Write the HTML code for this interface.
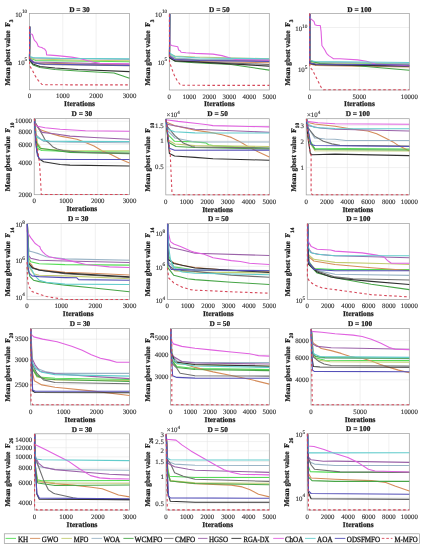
<!DOCTYPE html><html><head><meta charset="utf-8"><style>html,body{margin:0;padding:0;background:#fff;}svg{display:block;filter:blur(0.3px)}text{font-family:"Liberation Serif",serif;text-rendering:geometricPrecision}</style></head><body>
<svg width="424" height="550" viewBox="0 0 424 550">
<rect width="424" height="550" fill="#fff"/>
<path d="M62.8 13.5V89.8M96.1 13.5V89.8M29.4 61.4H129.5" stroke="#e6e6e6" stroke-width="0.6" fill="none"/>
<rect x="29.4" y="13.5" width="100.1" height="76.3" stroke="#9c9c9c" stroke-width="0.7" fill="none"/>
<path d="M29.8 26.7 L29.5 58 L36 60.5 L129.5 61.8" stroke="#55dc55" stroke-width="1.1" fill="none" stroke-linejoin="round"/>
<path d="M29.8 26.7 L29.5 59.5 L35 63 L129.5 65" stroke="#d48c5a" stroke-width="1.1" fill="none" stroke-linejoin="round"/>
<path d="M29.8 26.7 L29.5 57.5 L35 59 L80 60.2 L129.5 60.7" stroke="#c2cc72" stroke-width="1.1" fill="none" stroke-linejoin="round"/>
<path d="M29.8 26.7 L29.5 57 L35 58.2 L129.5 59.4" stroke="#9ab4c6" stroke-width="1.1" fill="none" stroke-linejoin="round"/>
<path d="M29.8 26.7 L29.5 60.5 L33 65 L40 67.5 L55 69.5 L78 71 L114 73 L120 75 L129.5 78.2" stroke="#47a547" stroke-width="1.1" fill="none" stroke-linejoin="round"/>
<path d="M29.8 26.7 L29.5 59.5 L33 62.5 L45 64.5 L129.5 65.8" stroke="#707070" stroke-width="1.1" fill="none" stroke-linejoin="round"/>
<path d="M29.8 26.7 L29.5 58.5 L34 62 L129.5 64.3" stroke="#9a62a8" stroke-width="1.1" fill="none" stroke-linejoin="round"/>
<path d="M29.8 26.7 L29.5 60 L33 64 L40 66.5 L55 68 L78 69.5 L129.5 71.6" stroke="#303030" stroke-width="1.1" fill="none" stroke-linejoin="round"/>
<path d="M29.8 26.7 L29.6 33.1 L30.6 33.8 L32.4 34.5 L33.5 38.2 L34.5 40.4 L36 41.8 L37 43.3 L38.2 46.2 L39.6 46.9 L41.8 47.6 L43.3 48.4 L44.7 49.1 L46.2 51.3 L46.6 54.9 L57 55.6 L71.6 57.1 L80 58.5 L92.5 62 L100 63.4 L129.5 63.8" stroke="#e062e0" stroke-width="1.1" fill="none" stroke-linejoin="round"/>
<path d="M29.8 26.7 L29.5 56.5 L33 57.5 L60 58.3 L129.5 58.8" stroke="#62cccc" stroke-width="1.1" fill="none" stroke-linejoin="round"/>
<path d="M29.8 26.7 L29.5 59 L33 62.5 L40 64 L129.5 65.5" stroke="#5550b8" stroke-width="1.1" fill="none" stroke-linejoin="round"/>
<path d="M29.5 26.5 L29.6 65.8 L32.4 70.2 L35.3 76 L38.2 80.4 L41.8 84.3 L44 84.8 L129.5 84.9" stroke="#d6485a" stroke-width="1.1" stroke-dasharray="2.6 2.4" fill="none"/>
<text x="29.4" y="98.4" font-size="6.8" fill="#333333" stroke="#333333" stroke-width="0.15" text-anchor="middle">0</text>
<text x="62.8" y="98.4" font-size="6.8" fill="#333333" stroke="#333333" stroke-width="0.15" text-anchor="middle">1000</text>
<text x="96.1" y="98.4" font-size="6.8" fill="#333333" stroke="#333333" stroke-width="0.15" text-anchor="middle">2000</text>
<text x="129.5" y="98.4" font-size="6.8" fill="#333333" stroke="#333333" stroke-width="0.15" text-anchor="middle">3000</text>
<text x="27.2" y="16.8" font-size="6.8" fill="#333333" stroke="#333333" stroke-width="0.15" text-anchor="end">10<tspan dy="-3.3" font-size="5.2">10</tspan></text>
<text x="27.2" y="64.7" font-size="6.8" fill="#333333" stroke="#333333" stroke-width="0.15" text-anchor="end">10<tspan dy="-3.3" font-size="5.2">5</tspan></text>
<text x="79.5" y="11.5" font-size="7.4" font-weight="bold" stroke="#1e1e1e" stroke-width="0.25" fill="#1e1e1e" text-anchor="middle">D&#160;=&#160;30</text>
<text x="79.5" y="106.2" font-size="7.4" font-weight="bold" stroke="#1e1e1e" stroke-width="0.25" fill="#1e1e1e" text-anchor="middle">Iterations</text>
<text transform="translate(9.8 52.5) rotate(-90)" xml:space="preserve" font-size="7.4" font-weight="bold" stroke="#1e1e1e" stroke-width="0.25" fill="#1e1e1e" text-anchor="middle">Mean gbest value  F<tspan dy="3.6" font-size="5.4">3</tspan></text>
<path d="M189.3 13.5V90M209.3 13.5V90M229.3 13.5V90M249.3 13.5V90M169.3 61.2H269.3" stroke="#e6e6e6" stroke-width="0.6" fill="none"/>
<rect x="169.3" y="13.5" width="100" height="76.5" stroke="#9c9c9c" stroke-width="0.7" fill="none"/>
<path d="M169.7 14.1 L169.5 55 L176 58.5 L200 60 L269.3 60.3" stroke="#55dc55" stroke-width="1.1" fill="none" stroke-linejoin="round"/>
<path d="M169.7 14.1 L169.5 57 L175 60.5 L200 61.5 L269.3 62.8" stroke="#d48c5a" stroke-width="1.1" fill="none" stroke-linejoin="round"/>
<path d="M169.7 14.1 L169.5 54 L175 56 L195 57 L269.3 58.8" stroke="#c2cc72" stroke-width="1.1" fill="none" stroke-linejoin="round"/>
<path d="M169.7 14.1 L169.5 55 L175 58 L200 59.5 L269.3 59.6" stroke="#9ab4c6" stroke-width="1.1" fill="none" stroke-linejoin="round"/>
<path d="M169.7 14.1 L169.5 58 L176 61.5 L195 62.8 L231 64.5 L269.3 70.1" stroke="#47a547" stroke-width="1.1" fill="none" stroke-linejoin="round"/>
<path d="M169.7 14.1 L169.5 57 L175 60.5 L200 62 L269.3 64.5" stroke="#707070" stroke-width="1.1" fill="none" stroke-linejoin="round"/>
<path d="M169.7 14.1 L169.5 56 L175 59.5 L200 60.5 L269.3 61" stroke="#9a62a8" stroke-width="1.1" fill="none" stroke-linejoin="round"/>
<path d="M169.7 14.1 L169.5 57.5 L175 61 L195 61.9 L269.3 66.1" stroke="#303030" stroke-width="1.1" fill="none" stroke-linejoin="round"/>
<path d="M169.7 14.1 L169.5 20 L169.8 39.6 L170.1 44.4 L171.6 45.5 L174 46 L177.8 46.8 L178.6 50 L180.2 50.8 L181.1 52.3 L186 52.8 L195 53.4 L213 54.1 L222 55.6 L231 58.3 L237 59.6 L269.3 60.1" stroke="#e062e0" stroke-width="1.1" fill="none" stroke-linejoin="round"/>
<path d="M169.7 14.1 L169.5 53 L175 56.5 L200 58 L269.3 58.8" stroke="#62cccc" stroke-width="1.1" fill="none" stroke-linejoin="round"/>
<path d="M169.7 14.1 L169.5 56.5 L174 59.5 L200 60.5 L269.3 61.5" stroke="#5550b8" stroke-width="1.1" fill="none" stroke-linejoin="round"/>
<path d="M169.4 14.5 L169.5 61.8 L171.6 68.1 L174 74.5 L177.2 80.8 L180.3 84.7 L182 85.3 L269.3 85.4" stroke="#d6485a" stroke-width="1.1" stroke-dasharray="2.6 2.4" fill="none"/>
<text x="169.3" y="98.6" font-size="6.8" fill="#333333" stroke="#333333" stroke-width="0.15" text-anchor="middle">0</text>
<text x="189.3" y="98.6" font-size="6.8" fill="#333333" stroke="#333333" stroke-width="0.15" text-anchor="middle">1000</text>
<text x="209.3" y="98.6" font-size="6.8" fill="#333333" stroke="#333333" stroke-width="0.15" text-anchor="middle">2000</text>
<text x="229.3" y="98.6" font-size="6.8" fill="#333333" stroke="#333333" stroke-width="0.15" text-anchor="middle">3000</text>
<text x="249.3" y="98.6" font-size="6.8" fill="#333333" stroke="#333333" stroke-width="0.15" text-anchor="middle">4000</text>
<text x="269.3" y="98.6" font-size="6.8" fill="#333333" stroke="#333333" stroke-width="0.15" text-anchor="middle">5000</text>
<text x="167.1" y="16.8" font-size="6.8" fill="#333333" stroke="#333333" stroke-width="0.15" text-anchor="end">10<tspan dy="-3.3" font-size="5.2">10</tspan></text>
<text x="167.1" y="64.5" font-size="6.8" fill="#333333" stroke="#333333" stroke-width="0.15" text-anchor="end">10<tspan dy="-3.3" font-size="5.2">5</tspan></text>
<text x="219.3" y="11.5" font-size="7.4" font-weight="bold" stroke="#1e1e1e" stroke-width="0.25" fill="#1e1e1e" text-anchor="middle">D&#160;=&#160;50</text>
<text x="219.3" y="106.4" font-size="7.4" font-weight="bold" stroke="#1e1e1e" stroke-width="0.25" fill="#1e1e1e" text-anchor="middle">Iterations</text>
<text transform="translate(150.4 52.6) rotate(-90)" xml:space="preserve" font-size="7.4" font-weight="bold" stroke="#1e1e1e" stroke-width="0.25" fill="#1e1e1e" text-anchor="middle">Mean gbest value  F<tspan dy="3.6" font-size="5.4">3</tspan></text>
<path d="M359.4 13.5V90M309.5 27.5H409.3M309.5 69H409.3" stroke="#e6e6e6" stroke-width="0.6" fill="none"/>
<rect x="309.5" y="13.5" width="99.8" height="76.5" stroke="#9c9c9c" stroke-width="0.7" fill="none"/>
<path d="M309.9 14.1 L309.7 60.2 L316 62.5 L409.3 64" stroke="#55dc55" stroke-width="1.1" fill="none" stroke-linejoin="round"/>
<path d="M309.9 14.1 L309.7 64 L316 65.5 L409.3 67" stroke="#d48c5a" stroke-width="1.1" fill="none" stroke-linejoin="round"/>
<path d="M309.9 14.1 L309.7 62 L316 63.5 L409.3 65" stroke="#c2cc72" stroke-width="1.1" fill="none" stroke-linejoin="round"/>
<path d="M309.9 14.1 L309.7 61 L315 62 L409.3 63.5" stroke="#9ab4c6" stroke-width="1.1" fill="none" stroke-linejoin="round"/>
<path d="M309.9 14.1 L309.7 61 L320 63.5 L360 66 L409.3 70.2" stroke="#47a547" stroke-width="1.1" fill="none" stroke-linejoin="round"/>
<path d="M309.9 14.1 L309.7 63 L316 64.5 L409.3 66.5" stroke="#707070" stroke-width="1.1" fill="none" stroke-linejoin="round"/>
<path d="M309.9 14.1 L309.7 63 L315 64.5 L409.3 65.5" stroke="#9a62a8" stroke-width="1.1" fill="none" stroke-linejoin="round"/>
<path d="M309.9 14.1 L309.7 63.5 L316 64.8 L409.3 66" stroke="#303030" stroke-width="1.1" fill="none" stroke-linejoin="round"/>
<path d="M309.6 13.9 L310.3 18.5 L311.8 19.6 L314.1 21.6 L314.9 24.7 L317.2 25.5 L320.3 25.5 L321.1 31.6 L321.9 45.5 L323.4 47.8 L325 50.2 L326.5 53.3 L328.8 55.6 L331.1 57.1 L333.5 58.7 L340 58.7 L357.7 59.9 L366.5 61.3 L375.4 64 L409.3 65.8" stroke="#e062e0" stroke-width="1.1" fill="none" stroke-linejoin="round"/>
<path d="M309.9 14.1 L309.7 60.5 L315 61.5 L409.3 62.5" stroke="#62cccc" stroke-width="1.1" fill="none" stroke-linejoin="round"/>
<path d="M309.9 14.1 L309.7 63 L315 64 L409.3 65" stroke="#5550b8" stroke-width="1.1" fill="none" stroke-linejoin="round"/>
<path d="M309.7 13.6 L309.8 67.2 L312.6 70.3 L314.9 75 L318 81.1 L321.1 87.3 L323.4 89.8 L409.3 89.8" stroke="#d6485a" stroke-width="1.1" stroke-dasharray="2.6 2.4" fill="none"/>
<text x="309.5" y="98.6" font-size="6.8" fill="#333333" stroke="#333333" stroke-width="0.15" text-anchor="middle">0</text>
<text x="359.4" y="98.6" font-size="6.8" fill="#333333" stroke="#333333" stroke-width="0.15" text-anchor="middle">5000</text>
<text x="409.3" y="98.6" font-size="6.8" fill="#333333" stroke="#333333" stroke-width="0.15" text-anchor="middle">10000</text>
<text x="307.3" y="30.8" font-size="6.8" fill="#333333" stroke="#333333" stroke-width="0.15" text-anchor="end">10<tspan dy="-3.3" font-size="5.2">10</tspan></text>
<text x="307.3" y="72.3" font-size="6.8" fill="#333333" stroke="#333333" stroke-width="0.15" text-anchor="end">10<tspan dy="-3.3" font-size="5.2">5</tspan></text>
<text x="359.4" y="11.5" font-size="7.4" font-weight="bold" stroke="#1e1e1e" stroke-width="0.25" fill="#1e1e1e" text-anchor="middle">D&#160;=&#160;100</text>
<text x="359.4" y="106.4" font-size="7.4" font-weight="bold" stroke="#1e1e1e" stroke-width="0.25" fill="#1e1e1e" text-anchor="middle">Iterations</text>
<text transform="translate(289.8 52.6) rotate(-90)" xml:space="preserve" font-size="7.4" font-weight="bold" stroke="#1e1e1e" stroke-width="0.25" fill="#1e1e1e" text-anchor="middle">Mean gbest value  F<tspan dy="3.6" font-size="5.4">3</tspan></text>
<path d="M66 118.4V194.7M97.7 118.4V194.7M34.2 121.1H129.5M34.2 131.5H129.5M34.2 144.4H129.5M34.2 162.9H129.5" stroke="#e6e6e6" stroke-width="0.6" fill="none"/>
<rect x="34.2" y="118.4" width="95.3" height="76.3" stroke="#9c9c9c" stroke-width="0.7" fill="none"/>
<path d="M34.6 119 L36 141 L38.3 149 L42 150.5 L70 151.5 L129.5 152" stroke="#55dc55" stroke-width="1.1" fill="none" stroke-linejoin="round"/>
<path d="M34.6 119 L34.5 122 L39 129.3 L49.6 133.1 L60.2 136.1 L77 139.2 L85.5 142.6 L94 146 L102.4 151 L111 154.4 L119.4 158.7 L129.5 163" stroke="#d48c5a" stroke-width="1.1" fill="none" stroke-linejoin="round"/>
<path d="M34.6 119 L37.5 143 L41.7 149 L70 150.5 L129.5 150.7" stroke="#c2cc72" stroke-width="1.1" fill="none" stroke-linejoin="round"/>
<path d="M34.6 119 L36 135 L43.6 141.4 L70 142.2 L129.5 142.8" stroke="#9ab4c6" stroke-width="1.1" fill="none" stroke-linejoin="round"/>
<path d="M34.6 119 L36 142 L40 148.2 L70 152.4 L129.5 153.6" stroke="#47a547" stroke-width="1.1" fill="none" stroke-linejoin="round"/>
<path d="M34.6 119 L35 122 L40.6 131.6 L43.6 136.9 L45.1 139.9 L49.6 143.7 L52.6 146.7 L57.2 149 L63.2 150.5 L70 151.2 L85 152.5 L129.5 153.3" stroke="#707070" stroke-width="1.1" fill="none" stroke-linejoin="round"/>
<path d="M34.6 119 L35 123 L42 132.4 L56 134 L70 136.1 L94 137.5 L129.5 139.2" stroke="#9a62a8" stroke-width="1.1" fill="none" stroke-linejoin="round"/>
<path d="M34.6 119 L34.5 124.5 L36.8 151.2 L39 158.8 L43.6 161.8 L52.6 163.3 L60.2 164.5 L70 165.1 L129.5 166" stroke="#303030" stroke-width="1.1" fill="none" stroke-linejoin="round"/>
<path d="M34.5 121 L34.5 124.8 L37.5 126.3 L45.1 127.8 L60.2 129.3 L85.5 130.7 L129.5 131.2" stroke="#e062e0" stroke-width="1.1" fill="none" stroke-linejoin="round"/>
<path d="M34.6 119 L35 133 L37.5 137.6 L42 139.9 L49.6 141 L70 141.4 L129.5 141.5" stroke="#62cccc" stroke-width="1.1" fill="none" stroke-linejoin="round"/>
<path d="M34.6 119 L34.5 123 L36 145.2 L37.5 155.8 L39.8 159.1 L70 159.5 L129.5 159.5" stroke="#5550b8" stroke-width="1.1" fill="none" stroke-linejoin="round"/>
<path d="M34.3 118.6 L35.3 127 L36.8 145.2 L38.3 154.2 L39.4 161.8 L40.3 175.4 L41.3 194.5 L42.5 194.5 L129.5 194.5" stroke="#d6485a" stroke-width="1.1" stroke-dasharray="2.6 2.4" fill="none"/>
<text x="34.2" y="203.3" font-size="6.8" fill="#333333" stroke="#333333" stroke-width="0.15" text-anchor="middle">0</text>
<text x="66" y="203.3" font-size="6.8" fill="#333333" stroke="#333333" stroke-width="0.15" text-anchor="middle">1000</text>
<text x="97.7" y="203.3" font-size="6.8" fill="#333333" stroke="#333333" stroke-width="0.15" text-anchor="middle">2000</text>
<text x="129.5" y="203.3" font-size="6.8" fill="#333333" stroke="#333333" stroke-width="0.15" text-anchor="middle">3000</text>
<text x="32" y="123.3" font-size="6.8" fill="#333333" stroke="#333333" stroke-width="0.15" text-anchor="end">10000</text>
<text x="32" y="133.7" font-size="6.8" fill="#333333" stroke="#333333" stroke-width="0.15" text-anchor="end">8000</text>
<text x="32" y="146.6" font-size="6.8" fill="#333333" stroke="#333333" stroke-width="0.15" text-anchor="end">6000</text>
<text x="32" y="165.1" font-size="6.8" fill="#333333" stroke="#333333" stroke-width="0.15" text-anchor="end">4000</text>
<text x="32" y="196.6" font-size="6.8" fill="#333333" stroke="#333333" stroke-width="0.15" text-anchor="end">2000</text>
<text x="81.8" y="116.1" font-size="7.4" font-weight="bold" stroke="#1e1e1e" stroke-width="0.25" fill="#1e1e1e" text-anchor="middle">D&#160;=&#160;30</text>
<text x="81.8" y="211.4" font-size="7.4" font-weight="bold" stroke="#1e1e1e" stroke-width="0.25" fill="#1e1e1e" text-anchor="middle">Iterations</text>
<text transform="translate(10 156.9) rotate(-90)" xml:space="preserve" font-size="7.4" font-weight="bold" stroke="#1e1e1e" stroke-width="0.25" fill="#1e1e1e" text-anchor="middle">Mean gbest value  F<tspan dy="3.6" font-size="5.4">10</tspan></text>
<path d="M186.5 118.7V194.9M207.2 118.7V194.9M227.9 118.7V194.9M248.6 118.7V194.9M165.8 125.8H269.3M165.8 141H269.3M165.8 166.9H269.3" stroke="#e6e6e6" stroke-width="0.6" fill="none"/>
<rect x="165.8" y="118.7" width="103.5" height="76.2" stroke="#9c9c9c" stroke-width="0.7" fill="none"/>
<path d="M166.2 119.3 L167.7 134.4 L174.6 141.3 L195 141.9 L205.9 142.9 L208.6 144.7 L213 145.6 L269.3 148.3" stroke="#55dc55" stroke-width="1.1" fill="none" stroke-linejoin="round"/>
<path d="M166.2 119.3 L166 122 L175 125.8 L195 130.1 L213 132.9 L222 134.7 L231.3 137.4 L240.4 142 L249.5 147.4 L258.5 152 L269.3 157" stroke="#d48c5a" stroke-width="1.1" fill="none" stroke-linejoin="round"/>
<path d="M166.2 119.3 L168 140 L175 144 L195 145.6 L269.3 146.5" stroke="#c2cc72" stroke-width="1.1" fill="none" stroke-linejoin="round"/>
<path d="M166.2 119.3 L167 130 L175 138 L195 142 L269.3 142" stroke="#9ab4c6" stroke-width="1.1" fill="none" stroke-linejoin="round"/>
<path d="M166.2 119.3 L168 142 L176 146.5 L195 147.5 L269.3 149" stroke="#47a547" stroke-width="1.1" fill="none" stroke-linejoin="round"/>
<path d="M166.2 119.3 L166.8 125.8 L174.6 135.3 L183.3 143 L191.9 146.5 L195 147 L269.3 148" stroke="#707070" stroke-width="1.1" fill="none" stroke-linejoin="round"/>
<path d="M166.2 119.3 L166 124 L174.6 125.8 L195 129.2 L269.3 132.3" stroke="#9a62a8" stroke-width="1.1" fill="none" stroke-linejoin="round"/>
<path d="M166.2 119.3 L166.8 127.5 L169.4 153.4 L174.6 156 L195 157.4 L213 158.8 L249.5 159.7 L269.3 160.3" stroke="#303030" stroke-width="1.1" fill="none" stroke-linejoin="round"/>
<path d="M165.9 119.7 L178 121.4 L195 123.3 L207.7 124.7 L213 125.6 L249.5 126.5 L269.3 126.9" stroke="#e062e0" stroke-width="1.1" fill="none" stroke-linejoin="round"/>
<path d="M166.2 119.3 L166 126 L167.7 129.2 L174.6 131.8 L195 132.9 L269.3 133" stroke="#62cccc" stroke-width="1.1" fill="none" stroke-linejoin="round"/>
<path d="M166.2 119.3 L166.8 125.8 L169.4 148.3 L174.6 150.3 L269.3 150.1" stroke="#5550b8" stroke-width="1.1" fill="none" stroke-linejoin="round"/>
<path d="M165.9 119.7 L168.5 139.6 L170.3 155.2 L171.1 174.2 L172 193.2 L173.5 194.7 L269.3 194.7" stroke="#d6485a" stroke-width="1.1" stroke-dasharray="2.6 2.4" fill="none"/>
<text x="165.8" y="203.5" font-size="6.8" fill="#333333" stroke="#333333" stroke-width="0.15" text-anchor="middle">0</text>
<text x="186.5" y="203.5" font-size="6.8" fill="#333333" stroke="#333333" stroke-width="0.15" text-anchor="middle">1000</text>
<text x="207.2" y="203.5" font-size="6.8" fill="#333333" stroke="#333333" stroke-width="0.15" text-anchor="middle">2000</text>
<text x="227.9" y="203.5" font-size="6.8" fill="#333333" stroke="#333333" stroke-width="0.15" text-anchor="middle">3000</text>
<text x="248.6" y="203.5" font-size="6.8" fill="#333333" stroke="#333333" stroke-width="0.15" text-anchor="middle">4000</text>
<text x="269.3" y="203.5" font-size="6.8" fill="#333333" stroke="#333333" stroke-width="0.15" text-anchor="middle">5000</text>
<text x="163.6" y="128" font-size="6.8" fill="#333333" stroke="#333333" stroke-width="0.15" text-anchor="end">1.5</text>
<text x="163.6" y="143.2" font-size="6.8" fill="#333333" stroke="#333333" stroke-width="0.15" text-anchor="end">1</text>
<text x="163.6" y="169.1" font-size="6.8" fill="#333333" stroke="#333333" stroke-width="0.15" text-anchor="end">0.5</text>
<text x="166.6" y="117.1" font-size="6.8" fill="#333333" stroke="#333333" stroke-width="0.15">×10<tspan dy="-2.8" font-size="5">4</tspan></text>
<text x="217.6" y="116.4" font-size="7.4" font-weight="bold" stroke="#1e1e1e" stroke-width="0.25" fill="#1e1e1e" text-anchor="middle">D&#160;=&#160;50</text>
<text x="217.6" y="211.6" font-size="7.4" font-weight="bold" stroke="#1e1e1e" stroke-width="0.25" fill="#1e1e1e" text-anchor="middle">Iterations</text>
<text transform="translate(149.9 157.1) rotate(-90)" xml:space="preserve" font-size="7.4" font-weight="bold" stroke="#1e1e1e" stroke-width="0.25" fill="#1e1e1e" text-anchor="middle">Mean gbest value  F<tspan dy="3.6" font-size="5.4">10</tspan></text>
<path d="M326.8 118.7V194.9M347.4 118.7V194.9M368.1 118.7V194.9M388.7 118.7V194.9M306.2 125.4H409.3M306.2 141.3H409.3M306.2 167.6H409.3" stroke="#e6e6e6" stroke-width="0.6" fill="none"/>
<rect x="306.2" y="118.7" width="103.1" height="76.2" stroke="#9c9c9c" stroke-width="0.7" fill="none"/>
<path d="M306.6 119.3 L309.4 139.6 L314.6 148.3 L409.3 149" stroke="#55dc55" stroke-width="1.1" fill="none" stroke-linejoin="round"/>
<path d="M306.6 119.3 L306.8 122.3 L314.6 124 L335 126.2 L353.1 129.2 L367.7 131 L376.7 133.8 L385.8 138.3 L393 141.9 L398.5 145.6 L409.3 151" stroke="#d48c5a" stroke-width="1.1" fill="none" stroke-linejoin="round"/>
<path d="M306.6 119.3 L310 143 L315 150.8 L409.3 151" stroke="#c2cc72" stroke-width="1.1" fill="none" stroke-linejoin="round"/>
<path d="M306.6 119.3 L308.5 128 L314.6 137.9 L325 139 L335 139.2 L345.9 140.5 L409.3 140.5" stroke="#9ab4c6" stroke-width="1.1" fill="none" stroke-linejoin="round"/>
<path d="M306.6 119.3 L309.4 141 L315 149.5 L409.3 150" stroke="#47a547" stroke-width="1.1" fill="none" stroke-linejoin="round"/>
<path d="M306.6 119.3 L307.7 127.5 L314.6 136.1 L323.3 141.3 L331.9 143.9 L340 145.4 L409.3 146" stroke="#707070" stroke-width="1.1" fill="none" stroke-linejoin="round"/>
<path d="M306.6 119.3 L308.5 125.8 L320 128 L335 129.2 L409.3 131" stroke="#9a62a8" stroke-width="1.1" fill="none" stroke-linejoin="round"/>
<path d="M306.6 119.3 L307.7 136.1 L310.3 153.4 L312 154.7 L335 154.1 L409.3 155.6" stroke="#303030" stroke-width="1.1" fill="none" stroke-linejoin="round"/>
<path d="M306.6 119.3 L306.8 121.4 L318 122.8 L335 123.8 L409.3 124.3" stroke="#e062e0" stroke-width="1.1" fill="none" stroke-linejoin="round"/>
<path d="M306.6 119.3 L307.7 124 L314.6 127.5 L335 128.5 L353 128.7 L409.3 128.7" stroke="#62cccc" stroke-width="1.1" fill="none" stroke-linejoin="round"/>
<path d="M306.6 119.3 L307 124 L311 144.5 L315 145.5 L409.3 146.5" stroke="#5550b8" stroke-width="1.1" fill="none" stroke-linejoin="round"/>
<path d="M306.4 119 L308.5 139.6 L310.3 153.4 L311.1 155.2 L311.1 193.5 L312.5 194.7 L409.3 194.7" stroke="#d6485a" stroke-width="1.1" stroke-dasharray="2.6 2.4" fill="none"/>
<text x="306.2" y="203.5" font-size="6.8" fill="#333333" stroke="#333333" stroke-width="0.15" text-anchor="middle">0</text>
<text x="326.8" y="203.5" font-size="6.8" fill="#333333" stroke="#333333" stroke-width="0.15" text-anchor="middle">2000</text>
<text x="347.4" y="203.5" font-size="6.8" fill="#333333" stroke="#333333" stroke-width="0.15" text-anchor="middle">4000</text>
<text x="368.1" y="203.5" font-size="6.8" fill="#333333" stroke="#333333" stroke-width="0.15" text-anchor="middle">6000</text>
<text x="388.7" y="203.5" font-size="6.8" fill="#333333" stroke="#333333" stroke-width="0.15" text-anchor="middle">8000</text>
<text x="409.3" y="203.5" font-size="6.8" fill="#333333" stroke="#333333" stroke-width="0.15" text-anchor="middle">10000</text>
<text x="304" y="127.6" font-size="6.8" fill="#333333" stroke="#333333" stroke-width="0.15" text-anchor="end">3</text>
<text x="304" y="143.5" font-size="6.8" fill="#333333" stroke="#333333" stroke-width="0.15" text-anchor="end">2</text>
<text x="304" y="169.8" font-size="6.8" fill="#333333" stroke="#333333" stroke-width="0.15" text-anchor="end">1</text>
<text x="307" y="117.1" font-size="6.8" fill="#333333" stroke="#333333" stroke-width="0.15">×10<tspan dy="-2.8" font-size="5">4</tspan></text>
<text x="357.8" y="116.4" font-size="7.4" font-weight="bold" stroke="#1e1e1e" stroke-width="0.25" fill="#1e1e1e" text-anchor="middle">D&#160;=&#160;100</text>
<text x="357.8" y="211.6" font-size="7.4" font-weight="bold" stroke="#1e1e1e" stroke-width="0.25" fill="#1e1e1e" text-anchor="middle">Iterations</text>
<text transform="translate(295.5 157.1) rotate(-90)" xml:space="preserve" font-size="7.4" font-weight="bold" stroke="#1e1e1e" stroke-width="0.25" fill="#1e1e1e" text-anchor="middle">Mean gbest value  F<tspan dy="3.6" font-size="5.4">10</tspan></text>
<path d="M61.2 223.5V299.7M95.3 223.5V299.7M27 259.9H129.5M27 296.4H129.5" stroke="#e6e6e6" stroke-width="0.6" fill="none"/>
<rect x="27" y="223.5" width="102.5" height="76.2" stroke="#9c9c9c" stroke-width="0.7" fill="none"/>
<path d="M27.4 224.1 L28.5 257.5 L30.7 261.7 L39.2 263.8 L65 264.6 L129.5 265.1" stroke="#55dc55" stroke-width="1.1" fill="none" stroke-linejoin="round"/>
<path d="M27.4 224.1 L28.5 261.7 L31.4 264.6 L33.5 268.1 L39.2 269.5 L65 272.4 L91.3 273.3 L129.5 275" stroke="#d48c5a" stroke-width="1.1" fill="none" stroke-linejoin="round"/>
<path d="M27.4 224.1 L29.3 267.4 L33.5 273.8 L39.2 275.2 L65 275.9 L129.5 278.7" stroke="#c2cc72" stroke-width="1.1" fill="none" stroke-linejoin="round"/>
<path d="M27.5 224.8 L27.8 243.3 L29.3 251.1 L32.1 251.8 L39.2 253.9 L46.3 256.8 L65 258.9 L129.5 260.2" stroke="#9ab4c6" stroke-width="1.1" fill="none" stroke-linejoin="round"/>
<path d="M27.4 224.1 L27.8 268.8 L30 276.6 L33.5 280.2 L39.2 281.6 L53.4 283.7 L65 285.1 L91.3 287.8 L129.5 291.8" stroke="#47a547" stroke-width="1.1" fill="none" stroke-linejoin="round"/>
<path d="M27.4 224.1 L28.5 264 L33 268.5 L45 271 L65 273.8 L129.5 277.5" stroke="#707070" stroke-width="1.1" fill="none" stroke-linejoin="round"/>
<path d="M27.4 224.1 L27.8 254.6 L30.7 258.2 L39.2 260.3 L65 261 L129.5 262.5" stroke="#9a62a8" stroke-width="1.1" fill="none" stroke-linejoin="round"/>
<path d="M27.4 224.1 L28.5 263.1 L32.1 267.4 L39.2 270.2 L65 273.1 L129.5 276.9" stroke="#303030" stroke-width="1.1" fill="none" stroke-linejoin="round"/>
<path d="M27.4 224.1 L27 231.2 L28.5 234.1 L30.7 237.6 L32.8 240.4 L34.9 243.3 L37.8 245.4 L39.9 246.8 L40.6 249 L42.7 251.8 L45.6 254.6 L49.1 256.8 L56.2 258.2 L65 259.6 L69.5 260.6 L85.9 264.5 L100.4 266 L109.4 266.9 L129.5 267.5" stroke="#e062e0" stroke-width="1.1" fill="none" stroke-linejoin="round"/>
<path d="M27.4 224.1 L28.5 264.6 L32.1 270.2 L34.9 275.9 L39.2 280.2 L46.3 282.3 L65 284.1 L129.5 284.5" stroke="#62cccc" stroke-width="1.1" fill="none" stroke-linejoin="round"/>
<path d="M27.4 224.1 L27.6 264.6 L29.3 273.1 L32.1 275.9 L39.2 276.6 L65 277.6 L76.8 277.8 L78.6 279.6 L129.5 280.2" stroke="#5550b8" stroke-width="1.1" fill="none" stroke-linejoin="round"/>
<path d="M27.1 262 L27.1 267.4 L27.6 278.7 L28.5 285.8 L32.1 291.5 L39.2 294.3 L46.3 296.5 L65 299.5 L129.5 299.5" stroke="#d6485a" stroke-width="1.1" stroke-dasharray="2.6 2.4" fill="none"/>
<text x="27" y="308.3" font-size="6.8" fill="#333333" stroke="#333333" stroke-width="0.15" text-anchor="middle">0</text>
<text x="61.2" y="308.3" font-size="6.8" fill="#333333" stroke="#333333" stroke-width="0.15" text-anchor="middle">1000</text>
<text x="95.3" y="308.3" font-size="6.8" fill="#333333" stroke="#333333" stroke-width="0.15" text-anchor="middle">2000</text>
<text x="129.5" y="308.3" font-size="6.8" fill="#333333" stroke="#333333" stroke-width="0.15" text-anchor="middle">3000</text>
<text x="24.8" y="226.8" font-size="6.8" fill="#333333" stroke="#333333" stroke-width="0.15" text-anchor="end">10<tspan dy="-3.3" font-size="5.2">8</tspan></text>
<text x="24.8" y="263.2" font-size="6.8" fill="#333333" stroke="#333333" stroke-width="0.15" text-anchor="end">10<tspan dy="-3.3" font-size="5.2">6</tspan></text>
<text x="24.8" y="299.7" font-size="6.8" fill="#333333" stroke="#333333" stroke-width="0.15" text-anchor="end">10<tspan dy="-3.3" font-size="5.2">4</tspan></text>
<text x="78.2" y="221.2" font-size="7.4" font-weight="bold" stroke="#1e1e1e" stroke-width="0.25" fill="#1e1e1e" text-anchor="middle">D&#160;=&#160;30</text>
<text x="78.2" y="316.4" font-size="7.4" font-weight="bold" stroke="#1e1e1e" stroke-width="0.25" fill="#1e1e1e" text-anchor="middle">Iterations</text>
<text transform="translate(10.1 261.9) rotate(-90)" xml:space="preserve" font-size="7.4" font-weight="bold" stroke="#1e1e1e" stroke-width="0.25" fill="#1e1e1e" text-anchor="middle">Mean gbest value  F<tspan dy="3.6" font-size="5.4">14</tspan></text>
<path d="M187.7 223.5V299.6M208.1 223.5V299.6M228.5 223.5V299.6M248.9 223.5V299.6M167.3 232.5H269.3M167.3 266.3H269.3" stroke="#e6e6e6" stroke-width="0.6" fill="none"/>
<rect x="167.3" y="223.5" width="102" height="76.1" stroke="#9c9c9c" stroke-width="0.7" fill="none"/>
<path d="M167.7 224.1 L168.7 256 L173.8 266.9 L195 270 L269.3 271.5" stroke="#55dc55" stroke-width="1.1" fill="none" stroke-linejoin="round"/>
<path d="M167.7 224.1 L167.9 259.3 L173.8 262.7 L182.2 265.2 L195 267.5 L231.3 270.5 L269.3 271.4" stroke="#d48c5a" stroke-width="1.1" fill="none" stroke-linejoin="round"/>
<path d="M167.7 224.1 L168 265 L175 271 L195 272 L269.3 273" stroke="#c2cc72" stroke-width="1.1" fill="none" stroke-linejoin="round"/>
<path d="M167.7 224.1 L168 262 L175 268 L195 270 L269.3 270.5" stroke="#9ab4c6" stroke-width="1.1" fill="none" stroke-linejoin="round"/>
<path d="M167.7 224.1 L167.9 267.7 L173.8 275.3 L187.3 278.7 L195 279.6 L231.3 282.3 L269.3 284.5" stroke="#47a547" stroke-width="1.1" fill="none" stroke-linejoin="round"/>
<path d="M167.7 224.1 L168 265 L175 270 L195 271.4 L231.3 275.1 L269.3 277.3" stroke="#707070" stroke-width="1.1" fill="none" stroke-linejoin="round"/>
<path d="M167.7 224.1 L167.9 240.7 L170.4 247.5 L182.2 250 L195 253.3 L269.3 255.5" stroke="#9a62a8" stroke-width="1.1" fill="none" stroke-linejoin="round"/>
<path d="M167.7 224.1 L167.9 259.3 L173.8 263.5 L195 268 L269.3 272.5" stroke="#303030" stroke-width="1.1" fill="none" stroke-linejoin="round"/>
<path d="M167.4 223.8 L168.7 234 L170.4 241.6 L173.8 244 L180.5 246.6 L190.7 250.9 L195 252.4 L204.1 254.2 L213.1 257.8 L231.3 260.6 L240.4 261.5 L249.5 263.3 L269.3 264.5" stroke="#e062e0" stroke-width="1.1" fill="none" stroke-linejoin="round"/>
<path d="M167.7 224.1 L168.7 247.5 L170.4 259.3 L173.8 267.7 L182.2 272 L195 273.3 L269.3 274.7" stroke="#62cccc" stroke-width="1.1" fill="none" stroke-linejoin="round"/>
<path d="M167.7 224.1 L167.9 262.7 L171.3 269.4 L195 270 L269.3 270.8" stroke="#5550b8" stroke-width="1.1" fill="none" stroke-linejoin="round"/>
<path d="M167.4 267.7 L168.7 277.9 L173.8 283 L182.2 287.2 L190.7 289.7 L195 290.1 L231.3 291.8 L269.3 293.2" stroke="#d6485a" stroke-width="1.1" stroke-dasharray="2.6 2.4" fill="none"/>
<text x="167.3" y="308.2" font-size="6.8" fill="#333333" stroke="#333333" stroke-width="0.15" text-anchor="middle">0</text>
<text x="187.7" y="308.2" font-size="6.8" fill="#333333" stroke="#333333" stroke-width="0.15" text-anchor="middle">1000</text>
<text x="208.1" y="308.2" font-size="6.8" fill="#333333" stroke="#333333" stroke-width="0.15" text-anchor="middle">2000</text>
<text x="228.5" y="308.2" font-size="6.8" fill="#333333" stroke="#333333" stroke-width="0.15" text-anchor="middle">3000</text>
<text x="248.9" y="308.2" font-size="6.8" fill="#333333" stroke="#333333" stroke-width="0.15" text-anchor="middle">4000</text>
<text x="269.3" y="308.2" font-size="6.8" fill="#333333" stroke="#333333" stroke-width="0.15" text-anchor="middle">5000</text>
<text x="165.1" y="235.8" font-size="6.8" fill="#333333" stroke="#333333" stroke-width="0.15" text-anchor="end">10<tspan dy="-3.3" font-size="5.2">8</tspan></text>
<text x="165.1" y="269.6" font-size="6.8" fill="#333333" stroke="#333333" stroke-width="0.15" text-anchor="end">10<tspan dy="-3.3" font-size="5.2">6</tspan></text>
<text x="165.1" y="302.9" font-size="6.8" fill="#333333" stroke="#333333" stroke-width="0.15" text-anchor="end">10<tspan dy="-3.3" font-size="5.2">4</tspan></text>
<text x="218.3" y="221.2" font-size="7.4" font-weight="bold" stroke="#1e1e1e" stroke-width="0.25" fill="#1e1e1e" text-anchor="middle">D&#160;=&#160;50</text>
<text x="218.3" y="316.3" font-size="7.4" font-weight="bold" stroke="#1e1e1e" stroke-width="0.25" fill="#1e1e1e" text-anchor="middle">Iterations</text>
<text transform="translate(150.1 261.9) rotate(-90)" xml:space="preserve" font-size="7.4" font-weight="bold" stroke="#1e1e1e" stroke-width="0.25" fill="#1e1e1e" text-anchor="middle">Mean gbest value  F<tspan dy="3.6" font-size="5.4">14</tspan></text>
<path d="M327.7 223.5V299.6M348.1 223.5V299.6M368.5 223.5V299.6M388.9 223.5V299.6" stroke="#e6e6e6" stroke-width="0.6" fill="none"/>
<rect x="307.3" y="223.5" width="102" height="76.1" stroke="#9c9c9c" stroke-width="0.7" fill="none"/>
<path d="M307.7 224.1 L308.7 261 L313.8 268.6 L335 269.6 L409.3 269.6" stroke="#55dc55" stroke-width="1.1" fill="none" stroke-linejoin="round"/>
<path d="M307.7 224.1 L307.9 255.9 L313.8 261 L335 264.5 L371.3 267.8 L409.3 270.5" stroke="#d48c5a" stroke-width="1.1" fill="none" stroke-linejoin="round"/>
<path d="M307.7 224.1 L307.9 254.2 L313.8 259.3 L335 262.4 L389.4 263.8 L409.3 264.5" stroke="#c2cc72" stroke-width="1.1" fill="none" stroke-linejoin="round"/>
<path d="M307.7 224.1 L308.7 262 L315 270 L335 274.2 L409.3 275.4" stroke="#9ab4c6" stroke-width="1.1" fill="none" stroke-linejoin="round"/>
<path d="M307.7 224.1 L308.7 264.4 L317.2 273 L335 277.8 L371.3 284.2 L409.3 289.6" stroke="#47a547" stroke-width="1.1" fill="none" stroke-linejoin="round"/>
<path d="M307.7 224.1 L308.7 262.7 L317.2 271.1 L335 276.9 L353.1 278.7 L409.3 280" stroke="#707070" stroke-width="1.1" fill="none" stroke-linejoin="round"/>
<path d="M307.7 224.1 L307.9 248 L312 253 L320 254.5 L335 255.7 L409.3 257.8" stroke="#9a62a8" stroke-width="1.1" fill="none" stroke-linejoin="round"/>
<path d="M307.7 224.1 L308.7 264.4 L317.2 272 L330.7 277 L340 278.5 L371.3 281.4 L409.3 284.5" stroke="#303030" stroke-width="1.1" fill="none" stroke-linejoin="round"/>
<path d="M307.7 224.1 L307.4 234 L308.7 242.4 L311.3 246.6 L317.2 249.2 L330.7 250 L335 251.1 L362.2 252.9 L376.7 255.1 L384 256.9 L387.6 260.6 L391.3 263.3 L409.3 263.3" stroke="#e062e0" stroke-width="1.1" fill="none" stroke-linejoin="round"/>
<path d="M307.7 224.1 L307.9 245.8 L310.4 252.5 L317.2 254.2 L335 255.7 L409.3 255.7" stroke="#62cccc" stroke-width="1.1" fill="none" stroke-linejoin="round"/>
<path d="M307.7 224.1 L307.9 261 L313.8 269.4 L335 270.7 L409.3 270.7" stroke="#5550b8" stroke-width="1.1" fill="none" stroke-linejoin="round"/>
<path d="M307.4 223.8 L307.4 277.9 L309.6 281.3 L313.8 284.6 L322.2 288 L335 289.6 L371.3 294.7 L409.3 296.9" stroke="#d6485a" stroke-width="1.1" stroke-dasharray="2.6 2.4" fill="none"/>
<text x="307.3" y="308.2" font-size="6.8" fill="#333333" stroke="#333333" stroke-width="0.15" text-anchor="middle">0</text>
<text x="327.7" y="308.2" font-size="6.8" fill="#333333" stroke="#333333" stroke-width="0.15" text-anchor="middle">2000</text>
<text x="348.1" y="308.2" font-size="6.8" fill="#333333" stroke="#333333" stroke-width="0.15" text-anchor="middle">4000</text>
<text x="368.5" y="308.2" font-size="6.8" fill="#333333" stroke="#333333" stroke-width="0.15" text-anchor="middle">6000</text>
<text x="388.9" y="308.2" font-size="6.8" fill="#333333" stroke="#333333" stroke-width="0.15" text-anchor="middle">8000</text>
<text x="409.3" y="308.2" font-size="6.8" fill="#333333" stroke="#333333" stroke-width="0.15" text-anchor="middle">10000</text>
<text x="305.1" y="302.9" font-size="6.8" fill="#333333" stroke="#333333" stroke-width="0.15" text-anchor="end">10<tspan dy="-3.3" font-size="5.2">5</tspan></text>
<text x="358.3" y="221.2" font-size="7.4" font-weight="bold" stroke="#1e1e1e" stroke-width="0.25" fill="#1e1e1e" text-anchor="middle">D&#160;=&#160;100</text>
<text x="358.3" y="316.3" font-size="7.4" font-weight="bold" stroke="#1e1e1e" stroke-width="0.25" fill="#1e1e1e" text-anchor="middle">Iterations</text>
<text transform="translate(290.2 261.9) rotate(-90)" xml:space="preserve" font-size="7.4" font-weight="bold" stroke="#1e1e1e" stroke-width="0.25" fill="#1e1e1e" text-anchor="middle">Mean gbest value  F<tspan dy="3.6" font-size="5.4">14</tspan></text>
<path d="M63.6 328.5V405M96.5 328.5V405M30.6 339.2H129.5M30.6 359.8H129.5M30.6 384.6H129.5" stroke="#e6e6e6" stroke-width="0.6" fill="none"/>
<rect x="30.6" y="328.5" width="98.9" height="76.5" stroke="#9c9c9c" stroke-width="0.7" fill="none"/>
<path d="M31 329.1 L31.8 366.5 L36.8 374.9 L41.8 377.4 L55 378.3 L129.5 379.5" stroke="#55dc55" stroke-width="1.1" fill="none" stroke-linejoin="round"/>
<path d="M31 329.1 L32.6 373.2 L34.3 380.7 L41.8 384.9 L55 387.3 L91.3 390.9 L129.5 395.5" stroke="#d48c5a" stroke-width="1.1" fill="none" stroke-linejoin="round"/>
<path d="M31 329.1 L32 368 L37 377 L55 380 L129.5 380.5" stroke="#c2cc72" stroke-width="1.1" fill="none" stroke-linejoin="round"/>
<path d="M31 329.1 L31.8 362 L36 368 L45 371.5 L55 373.4 L129.5 373.4" stroke="#9ab4c6" stroke-width="1.1" fill="none" stroke-linejoin="round"/>
<path d="M31 329.1 L31.8 368 L37 376 L45 379 L55 379.5 L129.5 381.5" stroke="#47a547" stroke-width="1.1" fill="none" stroke-linejoin="round"/>
<path d="M31 329.1 L31.8 363.2 L36.8 373.2 L43.5 379.9 L55 382.5 L129.5 383.7" stroke="#707070" stroke-width="1.1" fill="none" stroke-linejoin="round"/>
<path d="M31 329.1 L31.8 358.1 L35.1 364.8 L40.1 371.5 L55 373.7 L91.3 376.4 L129.5 378.6" stroke="#9a62a8" stroke-width="1.1" fill="none" stroke-linejoin="round"/>
<path d="M31 329.1 L30.9 340 L32.6 391 L35.1 392.5 L129.5 392.8" stroke="#303030" stroke-width="1.1" fill="none" stroke-linejoin="round"/>
<path d="M31 329.1 L30.9 331.4 L31.5 334.7 L33.8 336.9 L42.6 339.1 L57.1 341.8 L71.7 346.2 L82.2 350.3 L91.3 354.7 L100.4 358.3 L109.4 360.1 L116.7 362.3 L129.5 362.3" stroke="#e062e0" stroke-width="1.1" fill="none" stroke-linejoin="round"/>
<path d="M31 329.1 L31.8 361.5 L35.1 368.2 L41.8 372.3 L55 374.6 L129.5 376.1" stroke="#62cccc" stroke-width="1.1" fill="none" stroke-linejoin="round"/>
<path d="M31 329.1 L30.9 336.4 L32.6 389.9 L35.1 391.2 L129.5 391.3" stroke="#5550b8" stroke-width="1.1" fill="none" stroke-linejoin="round"/>
<path d="M30.9 328.8 L31 401.6 L32.6 404.8 L129.5 404.8" stroke="#d6485a" stroke-width="1.1" stroke-dasharray="2.6 2.4" fill="none"/>
<text x="30.6" y="413.6" font-size="6.8" fill="#333333" stroke="#333333" stroke-width="0.15" text-anchor="middle">0</text>
<text x="63.6" y="413.6" font-size="6.8" fill="#333333" stroke="#333333" stroke-width="0.15" text-anchor="middle">1000</text>
<text x="96.5" y="413.6" font-size="6.8" fill="#333333" stroke="#333333" stroke-width="0.15" text-anchor="middle">2000</text>
<text x="129.5" y="413.6" font-size="6.8" fill="#333333" stroke="#333333" stroke-width="0.15" text-anchor="middle">3000</text>
<text x="28.4" y="341.4" font-size="6.8" fill="#333333" stroke="#333333" stroke-width="0.15" text-anchor="end">3500</text>
<text x="28.4" y="362" font-size="6.8" fill="#333333" stroke="#333333" stroke-width="0.15" text-anchor="end">3000</text>
<text x="28.4" y="386.8" font-size="6.8" fill="#333333" stroke="#333333" stroke-width="0.15" text-anchor="end">2500</text>
<text x="80" y="326.2" font-size="7.4" font-weight="bold" stroke="#1e1e1e" stroke-width="0.25" fill="#1e1e1e" text-anchor="middle">D&#160;=&#160;30</text>
<text x="80" y="421.7" font-size="7.4" font-weight="bold" stroke="#1e1e1e" stroke-width="0.25" fill="#1e1e1e" text-anchor="middle">Iterations</text>
<text transform="translate(9.7 367.1) rotate(-90)" xml:space="preserve" font-size="7.4" font-weight="bold" stroke="#1e1e1e" stroke-width="0.25" fill="#1e1e1e" text-anchor="middle">Mean gbest value  F<tspan dy="3.6" font-size="5.4">20</tspan></text>
<path d="M190.3 328.5V405M210.1 328.5V405M229.8 328.5V405M249.6 328.5V405M170.6 337.7H269.3M170.6 354.8H269.3M170.6 376.9H269.3" stroke="#e6e6e6" stroke-width="0.6" fill="none"/>
<rect x="170.6" y="328.5" width="98.7" height="76.5" stroke="#9c9c9c" stroke-width="0.7" fill="none"/>
<path d="M170.9 329.1 L171.8 359.8 L176.8 366.5 L195 368.5 L269.3 369.6" stroke="#55dc55" stroke-width="1.1" fill="none" stroke-linejoin="round"/>
<path d="M170.9 329.1 L171 353.1 L176.8 361.5 L195 367.4 L213.1 371.9 L231.3 375.5 L249.5 379.2 L269.3 384.1" stroke="#d48c5a" stroke-width="1.1" fill="none" stroke-linejoin="round"/>
<path d="M170.9 329.1 L172 358 L177 364 L195 365 L269.3 366" stroke="#c2cc72" stroke-width="1.1" fill="none" stroke-linejoin="round"/>
<path d="M170.9 329.1 L171.8 356 L177 361 L195 362.5 L269.3 362.5" stroke="#9ab4c6" stroke-width="1.1" fill="none" stroke-linejoin="round"/>
<path d="M170.9 329.1 L172 361 L177 367.5 L195 369.5 L269.3 370.6" stroke="#47a547" stroke-width="1.1" fill="none" stroke-linejoin="round"/>
<path d="M170.9 329.1 L171.8 363.2 L176.8 368.2 L180.1 373.2 L195 375.7 L269.3 376.1" stroke="#707070" stroke-width="1.1" fill="none" stroke-linejoin="round"/>
<path d="M170.9 329.1 L171 351.4 L173.4 356.5 L181.8 361.5 L195 363 L269.3 364" stroke="#9a62a8" stroke-width="1.1" fill="none" stroke-linejoin="round"/>
<path d="M170.9 329.1 L171 352 L175 362 L195 364.5 L269.3 366.2" stroke="#303030" stroke-width="1.1" fill="none" stroke-linejoin="round"/>
<path d="M170.7 329.7 L171.8 341.4 L173.4 343.9 L181.8 346.4 L195 348.3 L213.1 350.1 L231.3 352 L249.5 353.8 L258.5 355.6 L269.3 356.1" stroke="#e062e0" stroke-width="1.1" fill="none" stroke-linejoin="round"/>
<path d="M170.9 329.1 L171.8 358.1 L176.8 363.2 L195 366 L269.3 367.4" stroke="#62cccc" stroke-width="1.1" fill="none" stroke-linejoin="round"/>
<path d="M170.9 329.1 L170.9 344.8 L172.6 375.7 L176.8 377.4 L195 378.1 L269.3 378.3" stroke="#5550b8" stroke-width="1.1" fill="none" stroke-linejoin="round"/>
<path d="M170.7 329 L171.8 345 L171.8 404.8 L173 404.8 L269.3 404.8" stroke="#d6485a" stroke-width="1.1" stroke-dasharray="2.6 2.4" fill="none"/>
<text x="170.6" y="413.6" font-size="6.8" fill="#333333" stroke="#333333" stroke-width="0.15" text-anchor="middle">0</text>
<text x="190.3" y="413.6" font-size="6.8" fill="#333333" stroke="#333333" stroke-width="0.15" text-anchor="middle">1000</text>
<text x="210.1" y="413.6" font-size="6.8" fill="#333333" stroke="#333333" stroke-width="0.15" text-anchor="middle">2000</text>
<text x="229.8" y="413.6" font-size="6.8" fill="#333333" stroke="#333333" stroke-width="0.15" text-anchor="middle">3000</text>
<text x="249.6" y="413.6" font-size="6.8" fill="#333333" stroke="#333333" stroke-width="0.15" text-anchor="middle">4000</text>
<text x="269.3" y="413.6" font-size="6.8" fill="#333333" stroke="#333333" stroke-width="0.15" text-anchor="middle">5000</text>
<text x="168.4" y="339.9" font-size="6.8" fill="#333333" stroke="#333333" stroke-width="0.15" text-anchor="end">5000</text>
<text x="168.4" y="357" font-size="6.8" fill="#333333" stroke="#333333" stroke-width="0.15" text-anchor="end">4000</text>
<text x="168.4" y="379.1" font-size="6.8" fill="#333333" stroke="#333333" stroke-width="0.15" text-anchor="end">3000</text>
<text x="219.9" y="326.2" font-size="7.4" font-weight="bold" stroke="#1e1e1e" stroke-width="0.25" fill="#1e1e1e" text-anchor="middle">D&#160;=&#160;50</text>
<text x="219.9" y="421.7" font-size="7.4" font-weight="bold" stroke="#1e1e1e" stroke-width="0.25" fill="#1e1e1e" text-anchor="middle">Iterations</text>
<text transform="translate(149.9 367.1) rotate(-90)" xml:space="preserve" font-size="7.4" font-weight="bold" stroke="#1e1e1e" stroke-width="0.25" fill="#1e1e1e" text-anchor="middle">Mean gbest value  F<tspan dy="3.6" font-size="5.4">20</tspan></text>
<path d="M360.1 328.5V405M311 340.6H409.3M311 357.3H409.3M311 379.9H409.3" stroke="#e6e6e6" stroke-width="0.6" fill="none"/>
<rect x="311" y="328.5" width="98.3" height="76.5" stroke="#9c9c9c" stroke-width="0.7" fill="none"/>
<path d="M311.4 329.1 L312.6 353 L316 358 L325 360.3 L409.3 360.6" stroke="#55dc55" stroke-width="1.1" fill="none" stroke-linejoin="round"/>
<path d="M311.4 329.1 L311.8 339.7 L313.4 343.1 L321.3 348.5 L331.2 350.6 L341.1 353.4 L349.6 356.3 L356.7 357.7 L362.2 358.3 L371.3 361 L380.4 364.6 L389.4 367.4 L398.5 370.1 L409.3 372.8" stroke="#d48c5a" stroke-width="1.1" fill="none" stroke-linejoin="round"/>
<path d="M311.4 329.1 L313 354 L317 360 L330 361.8 L409.3 362.2" stroke="#c2cc72" stroke-width="1.1" fill="none" stroke-linejoin="round"/>
<path d="M311.4 329.1 L312 351 L315 356 L322 358 L409.3 358.6" stroke="#9ab4c6" stroke-width="1.1" fill="none" stroke-linejoin="round"/>
<path d="M311.4 329.1 L312.5 352 L315.5 356.5 L325 357.6 L409.3 358.2" stroke="#47a547" stroke-width="1.1" fill="none" stroke-linejoin="round"/>
<path d="M311.4 329.1 L313.5 357 L318.5 361.2 L324.1 364 L331.2 365.5 L409.3 366" stroke="#707070" stroke-width="1.1" fill="none" stroke-linejoin="round"/>
<path d="M311.4 329.1 L311.1 338.1 L312.8 344 L317.1 346.4 L331.2 347.8 L409.3 349.2" stroke="#9a62a8" stroke-width="1.1" fill="none" stroke-linejoin="round"/>
<path d="M311.4 329.1 L311.8 356.5 L313.4 366.5 L320 367 L409.3 367.3" stroke="#303030" stroke-width="1.1" fill="none" stroke-linejoin="round"/>
<path d="M311.4 329.1 L311.1 331.4 L321.8 332.2 L335 333.8 L353.1 335.1 L362.2 336.5 L371.3 339.2 L380.4 342.9 L389.4 347.4 L394.9 349.2 L409.3 349.6" stroke="#e062e0" stroke-width="1.1" fill="none" stroke-linejoin="round"/>
<path d="M311.4 329.1 L312 349 L314 354 L320 356.6 L409.3 357.4" stroke="#62cccc" stroke-width="1.1" fill="none" stroke-linejoin="round"/>
<path d="M311.4 329.1 L311.1 334.7 L312.4 370 L314.2 371.4 L409.3 371.8" stroke="#5550b8" stroke-width="1.1" fill="none" stroke-linejoin="round"/>
<path d="M311.1 329 L312.3 404.8 L313.5 404.8 L409.3 404.8" stroke="#d6485a" stroke-width="1.1" stroke-dasharray="2.6 2.4" fill="none"/>
<text x="311" y="413.6" font-size="6.8" fill="#333333" stroke="#333333" stroke-width="0.15" text-anchor="middle">0</text>
<text x="360.1" y="413.6" font-size="6.8" fill="#333333" stroke="#333333" stroke-width="0.15" text-anchor="middle">5000</text>
<text x="409.3" y="413.6" font-size="6.8" fill="#333333" stroke="#333333" stroke-width="0.15" text-anchor="middle">10000</text>
<text x="308.8" y="342.8" font-size="6.8" fill="#333333" stroke="#333333" stroke-width="0.15" text-anchor="end">8000</text>
<text x="308.8" y="359.5" font-size="6.8" fill="#333333" stroke="#333333" stroke-width="0.15" text-anchor="end">6000</text>
<text x="308.8" y="382.1" font-size="6.8" fill="#333333" stroke="#333333" stroke-width="0.15" text-anchor="end">4000</text>
<text x="360.1" y="326.2" font-size="7.4" font-weight="bold" stroke="#1e1e1e" stroke-width="0.25" fill="#1e1e1e" text-anchor="middle">D&#160;=&#160;100</text>
<text x="360.1" y="421.7" font-size="7.4" font-weight="bold" stroke="#1e1e1e" stroke-width="0.25" fill="#1e1e1e" text-anchor="middle">Iterations</text>
<text transform="translate(289.8 367.1) rotate(-90)" xml:space="preserve" font-size="7.4" font-weight="bold" stroke="#1e1e1e" stroke-width="0.25" fill="#1e1e1e" text-anchor="middle">Mean gbest value  F<tspan dy="3.6" font-size="5.4">20</tspan></text>
<path d="M66.1 433.8V510.1M97.8 433.8V510.1M34.4 439.7H129.5M34.4 447.7H129.5M34.4 456.9H129.5M34.4 468.2H129.5M34.4 482.4H129.5M34.4 502.4H129.5" stroke="#e6e6e6" stroke-width="0.6" fill="none"/>
<rect x="34.4" y="433.8" width="95.1" height="76.3" stroke="#9c9c9c" stroke-width="0.7" fill="none"/>
<path d="M34.8 434.4 L35.1 464.8 L37.6 479.9 L41.8 480.7 L129.5 480.5" stroke="#55dc55" stroke-width="1.1" fill="none" stroke-linejoin="round"/>
<path d="M34.8 434.4 L35.1 469.8 L37.6 481.5 L55 483.6 L73.1 485.1 L91.3 487.2 L102.2 488.7 L109.4 491.4 L118.5 495 L129.5 496.9" stroke="#d48c5a" stroke-width="1.1" fill="none" stroke-linejoin="round"/>
<path d="M34.8 434.4 L35.1 468 L37.6 481 L55 483 L129.5 483.3" stroke="#c2cc72" stroke-width="1.1" fill="none" stroke-linejoin="round"/>
<path d="M34.8 434.4 L35.1 459.8 L38.5 466.5 L55 469.5 L129.5 470.2" stroke="#9ab4c6" stroke-width="1.1" fill="none" stroke-linejoin="round"/>
<path d="M34.8 434.4 L35.1 470 L37.8 483 L55 485.5 L129.5 485" stroke="#47a547" stroke-width="1.1" fill="none" stroke-linejoin="round"/>
<path d="M34.8 434.4 L35.1 456.4 L38.5 466.5 L43.5 479.9 L48.5 489.9 L53.5 493.2 L55 493.8 L73.1 497.8 L82.2 499.2 L129.5 499.6" stroke="#707070" stroke-width="1.1" fill="none" stroke-linejoin="round"/>
<path d="M34.8 434.4 L35.1 456.4 L38.5 463.1 L43.5 467.3 L55 469.6 L82.2 472 L109.4 474.2 L129.5 475.1" stroke="#9a62a8" stroke-width="1.1" fill="none" stroke-linejoin="round"/>
<path d="M34.8 434.4 L34.5 447 L36.8 494 L39.3 499.3 L129.5 499.6" stroke="#303030" stroke-width="1.1" fill="none" stroke-linejoin="round"/>
<path d="M34.8 434.4 L34.4 444.2 L45.3 449.6 L56.6 455.2 L68 460.9 L79.3 468.8 L90.6 475.6 L99.7 477.9 L110 478.6 L129.5 479" stroke="#e062e0" stroke-width="1.1" fill="none" stroke-linejoin="round"/>
<path d="M34.8 434.4 L34.4 449.8 L36 459 L41.8 459.8 L129.5 460.6" stroke="#62cccc" stroke-width="1.1" fill="none" stroke-linejoin="round"/>
<path d="M34.8 434.4 L34.4 444.7 L36.8 493.2 L39.3 498.1 L129.5 498.7" stroke="#5550b8" stroke-width="1.1" fill="none" stroke-linejoin="round"/>
<path d="M34.5 434 L34.6 506.6 L36.5 509.9 L129.5 509.9" stroke="#d6485a" stroke-width="1.1" stroke-dasharray="2.6 2.4" fill="none"/>
<text x="34.4" y="518.7" font-size="6.8" fill="#333333" stroke="#333333" stroke-width="0.15" text-anchor="middle">0</text>
<text x="66.1" y="518.7" font-size="6.8" fill="#333333" stroke="#333333" stroke-width="0.15" text-anchor="middle">1000</text>
<text x="97.8" y="518.7" font-size="6.8" fill="#333333" stroke="#333333" stroke-width="0.15" text-anchor="middle">2000</text>
<text x="129.5" y="518.7" font-size="6.8" fill="#333333" stroke="#333333" stroke-width="0.15" text-anchor="middle">3000</text>
<text x="32.2" y="441.9" font-size="6.8" fill="#333333" stroke="#333333" stroke-width="0.15" text-anchor="end">14000</text>
<text x="32.2" y="449.9" font-size="6.8" fill="#333333" stroke="#333333" stroke-width="0.15" text-anchor="end">12000</text>
<text x="32.2" y="459.1" font-size="6.8" fill="#333333" stroke="#333333" stroke-width="0.15" text-anchor="end">10000</text>
<text x="32.2" y="470.4" font-size="6.8" fill="#333333" stroke="#333333" stroke-width="0.15" text-anchor="end">8000</text>
<text x="32.2" y="484.6" font-size="6.8" fill="#333333" stroke="#333333" stroke-width="0.15" text-anchor="end">6000</text>
<text x="32.2" y="504.6" font-size="6.8" fill="#333333" stroke="#333333" stroke-width="0.15" text-anchor="end">4000</text>
<text x="82" y="431.5" font-size="7.4" font-weight="bold" stroke="#1e1e1e" stroke-width="0.25" fill="#1e1e1e" text-anchor="middle">D&#160;=&#160;30</text>
<text x="82" y="526.8" font-size="7.4" font-weight="bold" stroke="#1e1e1e" stroke-width="0.25" fill="#1e1e1e" text-anchor="middle">Iterations</text>
<text transform="translate(9.5 472.3) rotate(-90)" xml:space="preserve" font-size="7.4" font-weight="bold" stroke="#1e1e1e" stroke-width="0.25" fill="#1e1e1e" text-anchor="middle">Mean gbest value  F<tspan dy="3.6" font-size="5.4">26</tspan></text>
<path d="M186.7 433.8V510.1M207.3 433.8V510.1M228 433.8V510.1M248.6 433.8V510.1M166 441.6H269.3M166 450.8H269.3M166 461.5H269.3M166 476.7H269.3M166 503.4H269.3" stroke="#e6e6e6" stroke-width="0.6" fill="none"/>
<rect x="166" y="433.8" width="103.3" height="76.3" stroke="#9c9c9c" stroke-width="0.7" fill="none"/>
<path d="M166.3 434.4 L167.7 468.4 L169.4 476.2 L195 477.5 L269.3 477.5" stroke="#55dc55" stroke-width="1.1" fill="none" stroke-linejoin="round"/>
<path d="M166.3 434.4 L167.7 472 L170.3 481 L195 483.6 L231.3 485.1 L242.2 486.9 L249.5 489.6 L258.5 494.2 L269.3 496.9" stroke="#d48c5a" stroke-width="1.1" fill="none" stroke-linejoin="round"/>
<path d="M166.3 434.4 L167.7 471.9 L170.3 480.6 L195 482.9 L269.3 483.3" stroke="#c2cc72" stroke-width="1.1" fill="none" stroke-linejoin="round"/>
<path d="M166.3 434.4 L167.7 461.5 L174.6 464.1 L195 465.3 L269.3 465.5" stroke="#9ab4c6" stroke-width="1.1" fill="none" stroke-linejoin="round"/>
<path d="M166.3 434.4 L167.7 472 L170.3 481 L195 483.5 L269.3 484.7" stroke="#47a547" stroke-width="1.1" fill="none" stroke-linejoin="round"/>
<path d="M166.3 434.4 L167.7 459.8 L171.1 465 L174.6 472.8 L183.3 476.2 L195 479.3 L269.3 481.4" stroke="#707070" stroke-width="1.1" fill="none" stroke-linejoin="round"/>
<path d="M166.3 434.4 L167.7 463.3 L174.6 466.7 L188.4 469.3 L195 470.2 L269.3 472.4" stroke="#9a62a8" stroke-width="1.1" fill="none" stroke-linejoin="round"/>
<path d="M166.3 434.4 L167.7 492.7 L170.3 501.3 L195 502.2 L269.3 502.3" stroke="#303030" stroke-width="1.1" fill="none" stroke-linejoin="round"/>
<path d="M166.3 434.4 L166 439.3 L176 440.1 L181.9 444.9 L190.9 450.9 L201.3 456.9 L208.8 461.3 L216.2 465.6 L224 469.8 L231.3 472.3 L240.4 474.3 L269.3 474.9" stroke="#e062e0" stroke-width="1.1" fill="none" stroke-linejoin="round"/>
<path d="M166.3 434.4 L166.8 458 L170.3 459.8 L195 460 L269.3 460" stroke="#62cccc" stroke-width="1.1" fill="none" stroke-linejoin="round"/>
<path d="M166.3 434.4 L166.8 454.6 L168.5 496.1 L170.3 497.9 L269.3 498.3" stroke="#5550b8" stroke-width="1.1" fill="none" stroke-linejoin="round"/>
<path d="M166.1 434 L167.3 508.2 L168.5 509.9 L269.3 509.9" stroke="#d6485a" stroke-width="1.1" stroke-dasharray="2.6 2.4" fill="none"/>
<text x="166" y="518.7" font-size="6.8" fill="#333333" stroke="#333333" stroke-width="0.15" text-anchor="middle">0</text>
<text x="186.7" y="518.7" font-size="6.8" fill="#333333" stroke="#333333" stroke-width="0.15" text-anchor="middle">1000</text>
<text x="207.3" y="518.7" font-size="6.8" fill="#333333" stroke="#333333" stroke-width="0.15" text-anchor="middle">2000</text>
<text x="228" y="518.7" font-size="6.8" fill="#333333" stroke="#333333" stroke-width="0.15" text-anchor="middle">3000</text>
<text x="248.6" y="518.7" font-size="6.8" fill="#333333" stroke="#333333" stroke-width="0.15" text-anchor="middle">4000</text>
<text x="269.3" y="518.7" font-size="6.8" fill="#333333" stroke="#333333" stroke-width="0.15" text-anchor="middle">5000</text>
<text x="163.8" y="436.9" font-size="6.8" fill="#333333" stroke="#333333" stroke-width="0.15" text-anchor="end">3</text>
<text x="163.8" y="443.8" font-size="6.8" fill="#333333" stroke="#333333" stroke-width="0.15" text-anchor="end">2.5</text>
<text x="163.8" y="453" font-size="6.8" fill="#333333" stroke="#333333" stroke-width="0.15" text-anchor="end">2</text>
<text x="163.8" y="463.7" font-size="6.8" fill="#333333" stroke="#333333" stroke-width="0.15" text-anchor="end">1.5</text>
<text x="163.8" y="478.9" font-size="6.8" fill="#333333" stroke="#333333" stroke-width="0.15" text-anchor="end">1</text>
<text x="163.8" y="505.6" font-size="6.8" fill="#333333" stroke="#333333" stroke-width="0.15" text-anchor="end">0.5</text>
<text x="166.8" y="432.2" font-size="6.8" fill="#333333" stroke="#333333" stroke-width="0.15">×10<tspan dy="-2.8" font-size="5">4</tspan></text>
<text x="217.7" y="431.5" font-size="7.4" font-weight="bold" stroke="#1e1e1e" stroke-width="0.25" fill="#1e1e1e" text-anchor="middle">D&#160;=&#160;50</text>
<text x="217.7" y="526.8" font-size="7.4" font-weight="bold" stroke="#1e1e1e" stroke-width="0.25" fill="#1e1e1e" text-anchor="middle">Iterations</text>
<text transform="translate(149.5 472.3) rotate(-90)" xml:space="preserve" font-size="7.4" font-weight="bold" stroke="#1e1e1e" stroke-width="0.25" fill="#1e1e1e" text-anchor="middle">Mean gbest value  F<tspan dy="3.6" font-size="5.4">26</tspan></text>
<path d="M327.6 433.6V510.1M348 433.6V510.1M368.5 433.6V510.1M388.9 433.6V510.1M307.2 497.3H409.3" stroke="#e6e6e6" stroke-width="0.6" fill="none"/>
<rect x="307.2" y="433.6" width="102.1" height="76.5" stroke="#9c9c9c" stroke-width="0.7" fill="none"/>
<path d="M307.6 434.2 L308.5 466.7 L310.3 471.6 L335 472.4 L409.3 472.4" stroke="#55dc55" stroke-width="1.1" fill="none" stroke-linejoin="round"/>
<path d="M307.6 434.2 L308.5 473.6 L311.1 478 L335 479.3 L371.3 480.6 L385.8 482.4 L394.9 485.9 L409.3 490.9" stroke="#d48c5a" stroke-width="1.1" fill="none" stroke-linejoin="round"/>
<path d="M307.6 434.2 L308.5 461.5 L314.6 464.1 L335 465.5 L409.3 465.5" stroke="#9ab4c6" stroke-width="1.1" fill="none" stroke-linejoin="round"/>
<path d="M307.6 434.2 L308.5 477.1 L312 480.6 L335 481.4 L409.3 481.4" stroke="#47a547" stroke-width="1.1" fill="none" stroke-linejoin="round"/>
<path d="M307.6 434.2 L308.5 458 L311.1 465 L314.6 469.3 L340 471.9 L409.3 472.4" stroke="#707070" stroke-width="1.1" fill="none" stroke-linejoin="round"/>
<path d="M307.6 434.2 L307.7 456.3 L311.1 459.8 L323.3 461.2 L335 461.1 L409.3 462.4" stroke="#9a62a8" stroke-width="1.1" fill="none" stroke-linejoin="round"/>
<path d="M307.6 434.2 L308.5 492.7 L311.1 498.7 L409.3 499.2" stroke="#303030" stroke-width="1.1" fill="none" stroke-linejoin="round"/>
<path d="M307.6 434.2 L307.7 446 L314 446.5 L324 449.5 L335 453.5 L347.9 457.5 L358.1 462.6 L368.3 469.3 L375.1 471 L409.3 472" stroke="#e062e0" stroke-width="1.1" fill="none" stroke-linejoin="round"/>
<path d="M307.6 434.2 L308.5 452.9 L409.3 452.8" stroke="#62cccc" stroke-width="1.1" fill="none" stroke-linejoin="round"/>
<path d="M307.6 434.2 L307.7 437.3 L308.5 490.9 L311.1 493.5 L409.3 494.2" stroke="#5550b8" stroke-width="1.1" fill="none" stroke-linejoin="round"/>
<path d="M307.3 433.8 L308.5 508.2 L309.5 509.9 L409.3 509.9" stroke="#d6485a" stroke-width="1.1" stroke-dasharray="2.6 2.4" fill="none"/>
<text x="307.2" y="518.7" font-size="6.8" fill="#333333" stroke="#333333" stroke-width="0.15" text-anchor="middle">0</text>
<text x="327.6" y="518.7" font-size="6.8" fill="#333333" stroke="#333333" stroke-width="0.15" text-anchor="middle">2000</text>
<text x="348" y="518.7" font-size="6.8" fill="#333333" stroke="#333333" stroke-width="0.15" text-anchor="middle">4000</text>
<text x="368.5" y="518.7" font-size="6.8" fill="#333333" stroke="#333333" stroke-width="0.15" text-anchor="middle">6000</text>
<text x="388.9" y="518.7" font-size="6.8" fill="#333333" stroke="#333333" stroke-width="0.15" text-anchor="middle">8000</text>
<text x="409.3" y="518.7" font-size="6.8" fill="#333333" stroke="#333333" stroke-width="0.15" text-anchor="middle">10000</text>
<text x="305" y="437.3" font-size="6.8" fill="#333333" stroke="#333333" stroke-width="0.15" text-anchor="end">10<tspan dy="-3.3" font-size="5.2">5</tspan></text>
<text x="305" y="500.6" font-size="6.8" fill="#333333" stroke="#333333" stroke-width="0.15" text-anchor="end">10<tspan dy="-3.3" font-size="5.2">4</tspan></text>
<text x="358.2" y="431.3" font-size="7.4" font-weight="bold" stroke="#1e1e1e" stroke-width="0.25" fill="#1e1e1e" text-anchor="middle">D&#160;=&#160;100</text>
<text x="358.2" y="526.8" font-size="7.4" font-weight="bold" stroke="#1e1e1e" stroke-width="0.25" fill="#1e1e1e" text-anchor="middle">Iterations</text>
<text transform="translate(289.3 472.2) rotate(-90)" xml:space="preserve" font-size="7.4" font-weight="bold" stroke="#1e1e1e" stroke-width="0.25" fill="#1e1e1e" text-anchor="middle">Mean gbest value  F<tspan dy="3.6" font-size="5.4">26</tspan></text>
<rect x="4.3" y="533.8" width="415.1" height="9.6" stroke="#9a9a9a" stroke-width="0.7" fill="#fff"/>
<path d="M5.5 538.4H16" stroke="#55dc55" stroke-width="0.9"/>
<text x="17.9" y="541.9" font-size="8" textLength="10.3" lengthAdjust="spacingAndGlyphs" fill="#111" stroke="#111" stroke-width="0.28">KH</text>
<path d="M30 538.4H40.3" stroke="#d48c5a" stroke-width="0.9"/>
<text x="41.7" y="541.9" font-size="8" textLength="16.7" lengthAdjust="spacingAndGlyphs" fill="#111" stroke="#111" stroke-width="0.28">GWO</text>
<path d="M61.4 538.4H72" stroke="#c2cc72" stroke-width="0.9"/>
<text x="73.7" y="541.9" font-size="8" textLength="14.6" lengthAdjust="spacingAndGlyphs" fill="#111" stroke="#111" stroke-width="0.28">MFO</text>
<path d="M91.5 538.4H102.1" stroke="#9ab4c6" stroke-width="0.9"/>
<text x="103.4" y="541.9" font-size="8" textLength="16.8" lengthAdjust="spacingAndGlyphs" fill="#111" stroke="#111" stroke-width="0.28">WOA</text>
<path d="M123.4 538.4H133.6" stroke="#47a547" stroke-width="0.9"/>
<text x="134.4" y="541.9" font-size="8" textLength="28.0" lengthAdjust="spacingAndGlyphs" fill="#111" stroke="#111" stroke-width="0.28">WCMFO</text>
<path d="M164 538.4H173.5" stroke="#707070" stroke-width="0.9"/>
<text x="175" y="541.9" font-size="8" textLength="20.2" lengthAdjust="spacingAndGlyphs" fill="#111" stroke="#111" stroke-width="0.28">CMFO</text>
<path d="M198 538.4H207.5" stroke="#9a62a8" stroke-width="0.9"/>
<text x="208.9" y="541.9" font-size="8" textLength="19.1" lengthAdjust="spacingAndGlyphs" fill="#111" stroke="#111" stroke-width="0.28">HGSO</text>
<path d="M231.4 538.4H241.4" stroke="#303030" stroke-width="0.9"/>
<text x="243.5" y="541.9" font-size="8" textLength="25.9" lengthAdjust="spacingAndGlyphs" fill="#111" stroke="#111" stroke-width="0.28">RGA-DX</text>
<path d="M273.2 538.4H283.9" stroke="#e062e0" stroke-width="0.9"/>
<text x="284.9" y="541.9" font-size="8" textLength="18.4" lengthAdjust="spacingAndGlyphs" fill="#111" stroke="#111" stroke-width="0.28">ChOA</text>
<path d="M305 538.4H315.6" stroke="#62cccc" stroke-width="0.9"/>
<text x="317.1" y="541.9" font-size="8" textLength="15.5" lengthAdjust="spacingAndGlyphs" fill="#111" stroke="#111" stroke-width="0.28">AOA</text>
<path d="M334.8 538.4H345.4" stroke="#5550b8" stroke-width="0.9"/>
<text x="346.8" y="541.9" font-size="8" textLength="33.3" lengthAdjust="spacingAndGlyphs" fill="#111" stroke="#111" stroke-width="0.28">ODSFMFO</text>
<path d="M381.8 538.4H392.4" stroke="#d6485a" stroke-width="0.9" stroke-dasharray="2.6 1.9"/>
<text x="394.5" y="541.9" font-size="8" textLength="23.1" lengthAdjust="spacingAndGlyphs" fill="#111" stroke="#111" stroke-width="0.28">M-MFO</text>
</svg></body></html>
